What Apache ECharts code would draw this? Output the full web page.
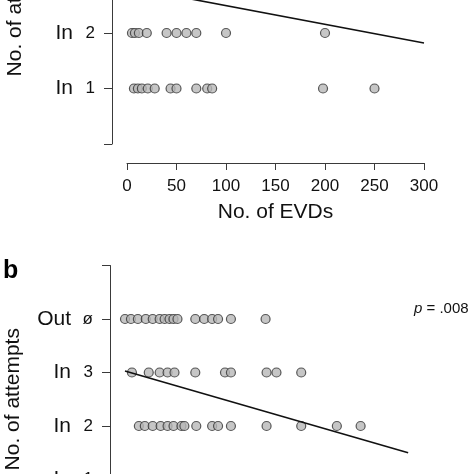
<!DOCTYPE html>
<html lang="en">
<head>
    <meta charset="UTF-8">
    <title>No. of attempts vs No. of EVDs</title>
    <script type="text/javascript" src="https://cdn.jsdelivr.net/npm/echarts@6/dist/echarts.min.js"></script>
    <style>
        html,body{
            margin: 0;
            padding: 0;
            background: #fff;
        }
        #chart{
            width: 474px;
            height: 474px;
        }
    </style>
</head>
<body>
    <div id="chart"></div>
</body>
<script>
    // tick labels of the attempts axis (0..5, only 1..4 have text)
    var yPrefix=["","In","In","In","Out",""];
    var yNum=["","1","2","3","ø",""];
    var xTicks=[0,50,100,150,200,250,300];

    // panel a
    var aIn2=[5,8,12,20,40,50,60,70,100,200];
    var aIn1=[7,11,15,21,28,44,50,70,81,86,198,250];
    var aTrendX=[0,300];
    var aTrendY=[2.83,1.82];

    // panel b
    var bOut=[0,6,13,21,28,35,40,45,49,53,71,80,88,94,107,142];
    var bIn3=[7,24,35,43,50,71,101,107,143,153,178];
    var bIn2=[14,20,28,36,43,49,57,60,72,88,94,107,143,178,214,238];
    var bTrendX=[0,286];
    var bTrendY=[3.03,1.50];

    function rowPoints(xs,level){
        var out=[];
        for(var i=0;i<xs.length;i++){
            out.push([xs[i],level]);
        }
        return out;
    }
    function linePoints(xs,ys){
        var out=[];
        for(var i=0;i<xs.length;i++){
            out.push([xs[i],ys[i]]);
        }
        return out;
    }

    var font="Liberation Sans";
    var axisCol="#3a3a3a";

    function yAxisOpt(idx){
        return {
            gridIndex:idx,
            type:'value',
            min:0,
            max:5,
            interval:1,
            offset:15,
            splitLine:{show:false},
            axisLine:{show:true,onZero:false,lineStyle:{color:axisCol,width:1}},
            axisTick:{show:true,length:8,lineStyle:{color:axisCol}},
            axisLabel:{
                margin:17,
                formatter:function(v){
                    if(!yPrefix[v]) return '';
                    return '{a|'+yPrefix[v]+'}{b|'+yNum[v]+'}';
                },
                rich:{
                    a:{fontFamily:font,fontSize:21,color:'#111'},
                    b:{fontFamily:font,fontSize:17,color:'#111',width:22,align:'right'}
                }
            },
            name:'No. of attempts',
            nameLocation:'middle',
            nameRotate:90,
            nameGap:86,
            nameTextStyle:{fontFamily:font,fontSize:21,color:'#111'}
        };
    }

    var dotStyle={color:'#b8b8b8',borderColor:'#333',borderWidth:1.2};

    var chart=echarts.init(document.getElementById("chart"));
    var option={
        animation:false,
        grid:[
            {left:127,right:50,top:-133.5,height:277.5,outerBoundsMode:'none',containLabel:false},
            {left:125,right:52,top:265.5,height:267.5,outerBoundsMode:'none',containLabel:false}
        ],
        xAxis:[
            {
                gridIndex:0,
                type:'value',
                min:xTicks[0],
                max:xTicks[xTicks.length-1],
                interval:50,
                offset:19,
                splitLine:{show:false},
                axisLine:{show:true,onZero:false,lineStyle:{color:axisCol,width:1}},
                axisTick:{show:true,length:7,lineStyle:{color:axisCol}},
                axisLabel:{margin:15,fontFamily:font,fontSize:17,color:'#111'},
                name:'No. of EVDs',
                nameLocation:'middle',
                nameGap:39,
                nameTextStyle:{fontFamily:font,fontSize:21,color:'#111'}
            },
            {
                gridIndex:1,
                type:'value',
                min:0,
                max:300,
                show:false
            }
        ],
        yAxis:[yAxisOpt(0),yAxisOpt(1)],
        series:[
            {type:'scatter',xAxisIndex:0,yAxisIndex:0,symbolSize:9,itemStyle:dotStyle,data:rowPoints(aIn2,2)},
            {type:'scatter',xAxisIndex:0,yAxisIndex:0,symbolSize:9,itemStyle:dotStyle,data:rowPoints(aIn1,1)},
            {type:'line',xAxisIndex:0,yAxisIndex:0,showSymbol:false,lineStyle:{color:'#111',width:1.6},data:linePoints(aTrendX,aTrendY)},
            {type:'scatter',xAxisIndex:1,yAxisIndex:1,symbolSize:9,itemStyle:dotStyle,data:rowPoints(bOut,4)},
            {type:'scatter',xAxisIndex:1,yAxisIndex:1,symbolSize:9,itemStyle:dotStyle,data:rowPoints(bIn3,3)},
            {type:'scatter',xAxisIndex:1,yAxisIndex:1,symbolSize:9,itemStyle:dotStyle,data:rowPoints(bIn2,2)},
            {type:'line',xAxisIndex:1,yAxisIndex:1,showSymbol:false,lineStyle:{color:'#111',width:1.6},data:linePoints(bTrendX,bTrendY)}
        ],
        graphic:[
            {type:'text',left:3,top:259,style:{text:'b',fontFamily:font,fontSize:25,fontWeight:'bold',fill:'#000'}},
            {
                type:'text',left:414,top:301,
                style:{
                    text:'{i|p} = .008',
                    fontFamily:font,fontSize:15,fill:'#111',
                    rich:{i:{fontFamily:font,fontSize:15,fontStyle:'italic',fill:'#111'}}
                }
            }
        ]
    };
    chart.setOption(option);
</script>
</html>
